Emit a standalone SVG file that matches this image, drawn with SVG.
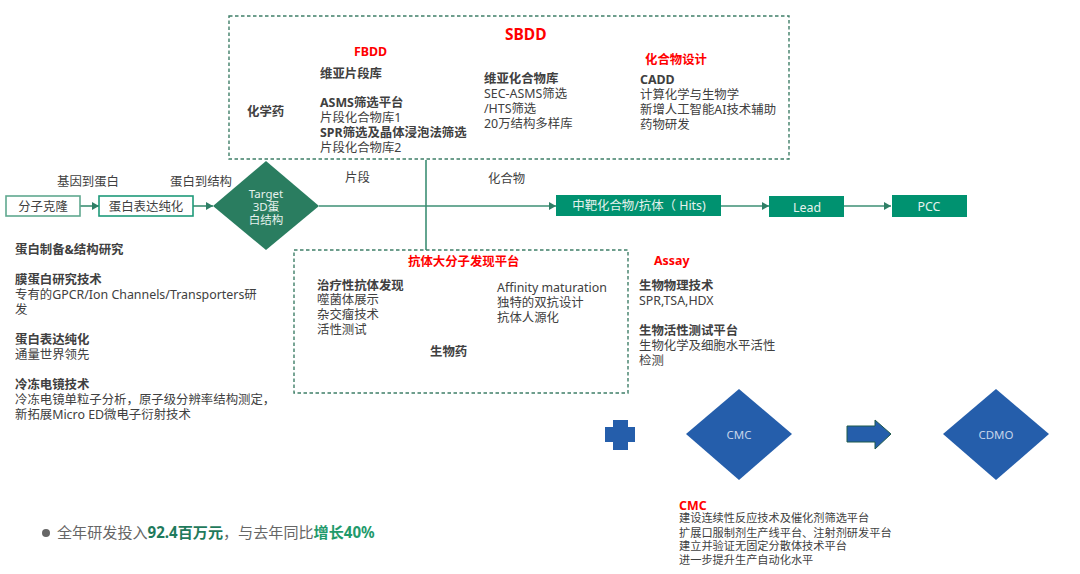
<svg xmlns="http://www.w3.org/2000/svg" width="1080" height="574" viewBox="0 0 1080 574">
<style>
text{font-family:"Noto Sans","Noto Sans CJK SC",sans-serif;fill:#404040;font-size:12.4px}
.b{font-weight:700}
.r{fill:#f00;font-weight:700}
.w{fill:#e6f2ee;text-anchor:middle}
.t{font-size:11.5px}
.s{font-size:11.2px}
.l{font-size:11.5px;fill:#c5d4ea;text-anchor:middle}
.dash{fill:none;stroke:#3f7f68;stroke-width:1.4;stroke-dasharray:3.5 2.5}
.c{fill:none;stroke:#3d8f74;stroke-width:1.6}
.ca{marker-end:url(#a)}
.g{fill:#009270}
.blue{fill:#255eab}
</style>
<defs><marker id="a" markerUnits="userSpaceOnUse" markerWidth="8" markerHeight="8" refX="7" refY="4" orient="auto"><path d="M0 0L7 4L0 8z" fill="#2f7f66"/></marker></defs>
<rect width="1080" height="574" fill="#fff"/>
<g id="connectors">
<path class="c ca" d="M80 206H99"/>
<path class="c ca" d="M193 206H213"/>
<path class="c ca" d="M319 206H556"/>
<path class="c" d="M426 160V250"/>
<path class="c ca" d="M721 206H769"/>
<path class="c ca" d="M844 206H891"/>
</g>
<g id="sbdd-box"><rect class="dash" x="229" y="16" width="560" height="143"/>
<text class="r" x="505" y="40" style="font-size:15.5px">SBDD</text>
<text class="r" x="354" y="56">FBDD</text>
<text class="r" x="645" y="64">化合物设计</text>
<text class="b" x="247" y="116">化学药</text>
<text class="b" x="320" y="78">维亚片段库</text>
<text class="b" x="320" y="107">ASMS筛选平台</text>
<text x="320" y="122">片段化合物库1</text>
<text class="b" x="320" y="137">SPR筛选及晶体浸泡法筛选</text>
<text x="320" y="152">片段化合物库2</text>
<text class="b" x="484" y="83">维亚化合物库</text>
<text x="484" y="98">SEC-ASMS筛选</text>
<text x="484" y="113">/HTS筛选</text>
<text x="484" y="128">20万结构多样库</text>
<text class="b" x="640" y="84">CADD</text>
<text x="640" y="99">计算化学与生物学</text>
<text x="640" y="114">新增人工智能AI技术辅助</text>
<text x="640" y="129">药物研发</text></g>
<g id="n-clone"><rect x="6" y="196" width="74" height="20" fill="#fff" stroke="#5fa88f" stroke-width="1.6"/><text x="43" y="211" text-anchor="middle">分子克隆</text></g>
<g id="n-expr"><rect x="99" y="196" width="94" height="20" fill="#fff" stroke="#1f9a7a" stroke-width="1.6"/><text x="146" y="211" text-anchor="middle">蛋白表达纯化</text></g>
<g id="n-target"><path d="M266 161L319 206L266 250L213 206z" fill="#2a7d60"/>
<text class="w t" x="266" y="198">Target</text><text class="w t" x="266" y="211">3D蛋</text><text class="w t" x="266" y="224">白结构</text></g>
<g id="n-hits"><rect class="g" x="556" y="195" width="165" height="21"/><text class="w" x="639" y="210">中靶化合物/抗体（ Hits)</text></g>
<g id="n-lead"><rect class="g" x="769" y="196" width="75" height="21"/><text class="w" x="807" y="212">Lead</text></g>
<g id="n-pcc"><rect class="g" x="892" y="195" width="75" height="22"/><text class="w" x="929" y="211">PCC</text></g>
<text x="57" y="186">基因到蛋白</text>
<text x="170" y="186">蛋白到结构</text>
<text x="345" y="182">片段</text>
<text x="488" y="183">化合物</text>
<g id="left-text">
<text class="b" x="15" y="254">蛋白制备&amp;结构研究</text>
<text class="b" x="15" y="284">膜蛋白研究技术</text>
<text x="15" y="299">专有的GPCR/Ion Channels/Transporters研</text>
<text x="15" y="314">发</text>
<text class="b" x="15" y="344">蛋白表达纯化</text>
<text x="15" y="359">通量世界领先</text>
<text class="b" x="15" y="389">冷冻电镜技术</text>
<text x="15" y="404">冷冻电镜单粒子分析，原子级分辨率结构测定，</text>
<text x="15" y="419">新拓展Micro ED微电子衍射技术</text>
</g>
<g id="antibody-box"><rect class="dash" x="294" y="250" width="334" height="143"/>
<text class="r" x="408" y="266">抗体大分子发现平台</text>
<text class="b" x="317" y="290">治疗性抗体发现</text>
<text x="317" y="304">噬菌体展示</text>
<text x="317" y="319">杂交瘤技术</text>
<text x="317" y="334">活性测试</text>
<text x="497" y="292">Affinity maturation</text>
<text x="497" y="307">独特的双抗设计</text>
<text x="497" y="322">抗体人源化</text>
<text class="b" x="430" y="356">生物药</text></g>
<g id="assay-text">
<text class="r" x="654" y="265">Assay</text>
<text class="b" x="639" y="290">生物物理技术</text>
<text x="639" y="305">SPR,TSA,HDX</text>
<text class="b" x="639" y="335">生物活性测试平台</text>
<text x="639" y="350">生物化学及细胞水平活性</text>
<text x="639" y="365">检测</text></g>
<g id="plus"><path class="blue" d="M613 420h15v7h7v15h-7v8h-15v-8h-8v-15h8z"/></g>
<g id="n-cmc"><path class="blue" d="M739 389L792 434L739 480L686 434z"/><text class="l" x="739" y="439">CMC</text></g>
<g id="arrow"><path class="blue" d="M847 426H875V420L891 434L875 449V442H847z" stroke="#1f5a4a"/></g>
<g id="n-cdmo"><path class="blue" d="M996 389L1049 434L996 480L943 434z"/><text class="l" x="996" y="439">CDMO</text></g>
<g id="cmc-text">
<text class="r" x="679" y="510">CMC</text>
<text class="s" x="679" y="522">建设连续性反应技术及催化剂筛选平台</text>
<text class="s" x="679" y="537">扩展口服制剂生产线平台、注射剂研发平台</text>
<text class="s" x="679" y="550">建立并验证无固定分散体技术平台</text>
<text class="s" x="679" y="564">进一步提升生产自动化水平</text></g>
<g id="summary"><circle cx="46" cy="533" r="4" fill="#666"/>
<text x="57" y="538" style="font-size:15.1px;fill:#666">全年研发投入<tspan style="fill:#1f7a5c;font-weight:700">92.4百万元</tspan>，与去年同比<tspan style="fill:#1f9a6c;font-weight:700">增长40%</tspan></text></g>
</svg>
